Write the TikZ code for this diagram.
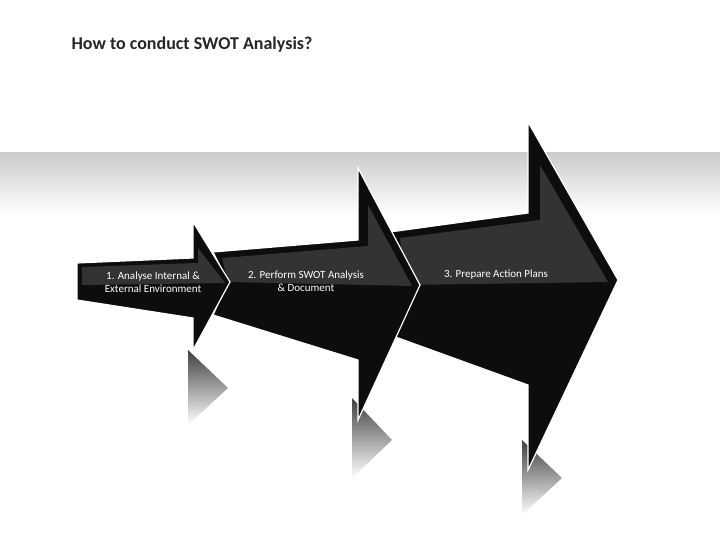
\documentclass[tikz,border=0pt]{standalone}
\usepackage{fontspec}
\setmainfont{Carlito}
\begin{document}
\begin{tikzpicture}[x=1pt,y=-1pt,
  lbl/.style={text=white,font=\fontsize{11}{13}\selectfont,align=center},
  refl/.style={top color=black!75,bottom color=white,draw=none}]
\useasboundingbox (0,0) rectangle (720,540);
\fill[white] (0,0) rectangle (720,540);
\shade[top color=black!20,bottom color=white] (0,153) rectangle (720,215);
\node[anchor=west,font=\bfseries\fontsize{18}{20}\selectfont,text=black!85] (title) at (68,45) {How to conduct SWOT Analysis?};
% reflections
\path[refl] (188,350) -- (228,388) -- (188,425) -- cycle;
\path[refl] (352,398) -- (392,440) -- (352,478) -- cycle;
\path[refl] (522,440) -- (562,478) -- (522,515) -- cycle;
% arrow 3
\fill[black!95,draw=white,line width=1.2pt] (390,232) -- (528,213) -- (528,122) -- (618,280) -- (528,470) -- (528,385) -- (390,335) -- (405,285) -- cycle;
\fill[black!80] (400,238) -- (540,220) -- (540,165) -- (608,282) -- (405,285) -- cycle;
% arrow 2
\fill[black!95,draw=white,line width=1.2pt] (213,252) -- (358,240) -- (358,168) -- (420,285) -- (358,420) -- (358,360) -- (213,315) -- (228,282) -- cycle;
\fill[black!80] (222,258) -- (368,246) -- (368,205) -- (412,286) -- (228,282) -- cycle;
% arrow 1
\fill[black!95,draw=white,line width=1.2pt] (77,263) -- (193,258) -- (193,222) -- (230,282) -- (193,350) -- (193,318) -- (77,300) -- cycle;
\fill[black!80] (82,267) -- (198,263) -- (198,248) -- (225,283) -- (82,285) -- cycle;
\node[lbl] (l1) at (153,282) {1. Analyse Internal \&\\External Environment};
\node[lbl] (l2) at (306,281) {2. Perform SWOT Analysis\\\& Document};
\node[lbl] (l3) at (496,275) {3. Prepare Action Plans};
\end{tikzpicture}
\end{document}
